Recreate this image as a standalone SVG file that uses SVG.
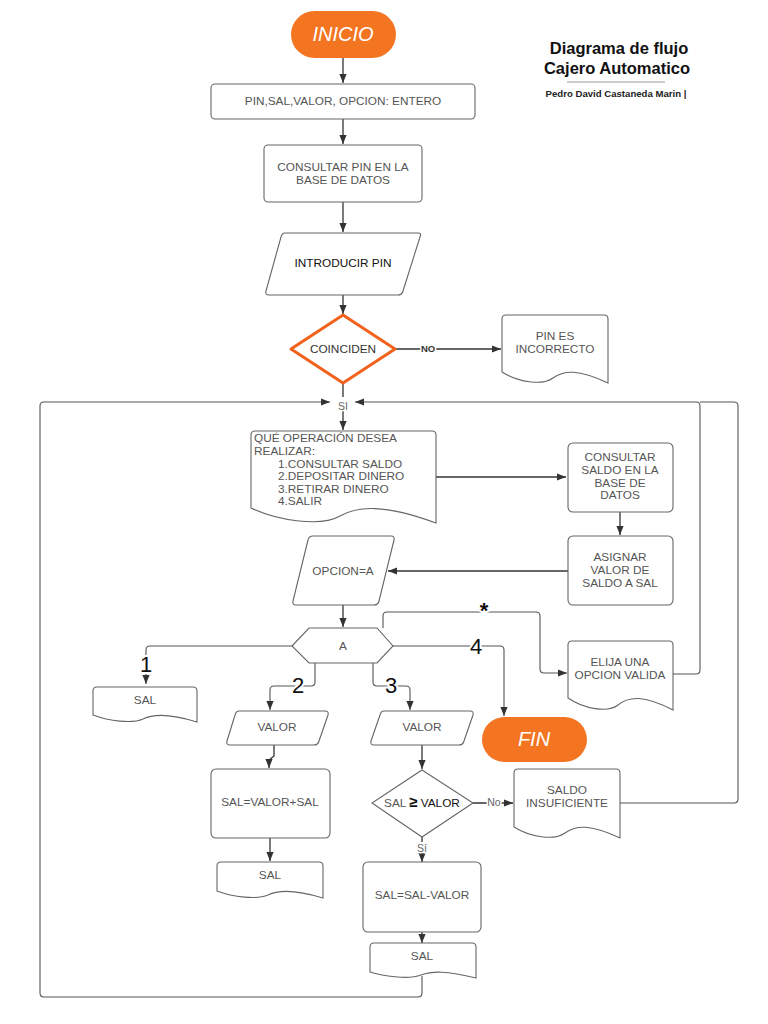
<svg xmlns="http://www.w3.org/2000/svg" width="768" height="1024" viewBox="0 0 768 1024">
<style>
.box{fill:#fff;stroke:#666;stroke-width:1.1}
.term{fill:#F47521;stroke:none}
.conn{fill:none;stroke:#333;stroke-width:1.3}
.loop{fill:none;stroke:#555;stroke-width:1.1}
.t{font-family:"Liberation Sans",Arial,sans-serif;font-size:11.8px;fill:#555;text-anchor:middle}
.tl{font-family:"Liberation Sans",Arial,sans-serif;font-size:11.8px;fill:#555}
.tw{font-family:"Liberation Sans",Arial,sans-serif;font-style:italic;fill:#fff;text-anchor:middle}
.num{font-family:"Liberation Sans",Arial,sans-serif;font-size:22px;fill:#111;text-anchor:middle;stroke:#fff;stroke-width:4;paint-order:stroke}
.lab{font-family:"Liberation Sans",Arial,sans-serif;font-size:10.5px;fill:#666;text-anchor:middle;stroke:#fff;stroke-width:3;paint-order:stroke}
</style>
<defs>
<marker id="arr" viewBox="0 0 10 8" refX="10" refY="4" markerWidth="9" markerHeight="8" markerUnits="userSpaceOnUse" orient="auto">
<path d="M0,0 L10,4 L0,8 z" fill="#333"/>
</marker>
</defs>

<g id="title">
<text x="619" y="54" font-family="Liberation Sans,Arial,sans-serif" font-size="16.5" font-weight="bold" fill="#111" text-anchor="middle">Diagrama de flujo</text>
<text x="617" y="74" font-family="Liberation Sans,Arial,sans-serif" font-size="16.5" font-weight="bold" fill="#111" text-anchor="middle">Cajero Automatico</text>
<line x1="567" y1="82" x2="665" y2="82" stroke="#999" stroke-width="1.2"/>
<text x="616" y="97" font-family="Liberation Sans,Arial,sans-serif" font-size="9.6" font-weight="bold" fill="#222" text-anchor="middle">Pedro David Castaneda Marin  |</text>
</g>

<g id="connectors">
<path class="conn" d="M343,58 V83" marker-end="url(#arr)"/>
<path class="conn" d="M343,119 V144" marker-end="url(#arr)"/>
<path class="conn" d="M343,202 V232" marker-end="url(#arr)"/>
<path class="conn" d="M343,295 V314" marker-end="url(#arr)"/>
<path class="conn" d="M395,349 H501" marker-end="url(#arr)"/>
<path class="conn" d="M343,383 V397"/>
<path class="conn" d="M343,411 V430" marker-end="url(#arr)"/>
<path class="loop" d="M422,976 V993 Q422,997 418,997 H44 Q40,997 40,993 V406 Q40,402 44,402 H330" marker-end="url(#arr)"/>
<path class="loop" d="M673,674 H696 Q700,674 700,670 V406 Q700,402 696,402 H355" marker-end="url(#arr)"/>
<path class="loop" d="M620,803 H734 Q738,803 738,799 V406 Q738,402 734,402 H700"/>
<path class="conn" d="M436,477 H566" marker-end="url(#arr)"/>
<path class="conn" d="M620,512 V535" marker-end="url(#arr)"/>
<path class="conn" d="M568,571 H388" marker-end="url(#arr)"/>
<path class="conn" d="M343,605 V627" marker-end="url(#arr)"/>
<path class="loop" d="M292,646 H150 Q146,646 146,650 V684" marker-end="url(#arr)"/>
<path class="loop" d="M315,663 V682 Q315,686 311,686 H274 Q270,686 270,690 V710" marker-end="url(#arr)"/>
<path class="loop" d="M373,663 V682 Q373,686 377,686 H406 Q410,686 410,690 V710" marker-end="url(#arr)"/>
<path class="loop" d="M393,646 H500 Q504,646 504,650 V716" marker-end="url(#arr)"/>
<path class="loop" d="M383,628 V616 Q383,612 387,612 H536 Q540,612 540,616 V669 Q540,673 544,673 H567" marker-end="url(#arr)"/>
<path class="conn" d="M274,745 V756 L269,760 V768" marker-end="url(#arr)"/>
<path class="conn" d="M270,838 V861" marker-end="url(#arr)"/>
<path class="conn" d="M422,745 V769" marker-end="url(#arr)"/>
<path class="conn" d="M473,803 H513" marker-end="url(#arr)"/>
<path class="conn" d="M422,837 V842"/>
<path class="conn" d="M422,855 V862" marker-end="url(#arr)"/>
<path class="conn" d="M422,932 V943" marker-end="url(#arr)"/>
<text x="428" y="352" font-family="Liberation Sans,Arial,sans-serif" font-size="9.5" font-weight="bold" fill="#333" text-anchor="middle" stroke="#fff" stroke-width="3" paint-order="stroke">NO</text>
<text x="343" y="410" class="lab" font-size="11">SI</text>
<text x="494" y="806" class="lab">No</text>
<text x="422" y="852" class="lab">Sí</text>
<text x="146" y="672" class="num">1</text>
<text x="298" y="693" class="num">2</text>
<text x="391" y="693" class="num">3</text>
<text x="476" y="654" class="num">4</text>
<text x="484" y="618" class="num" font-size="21" font-weight="bold">*</text>
</g>

<g id="inicio">
<rect class="term" x="291" y="11" width="105" height="47" rx="23.5"/>
<text class="tw" x="343" y="41" font-size="20">INICIO</text>
</g>
<g id="declarar">
<rect class="box" x="211" y="84" width="264" height="35" rx="4"/>
<text class="t" x="343" y="105">PIN,SAL,VALOR, OPCION: ENTERO</text>
</g>
<g id="consultar-pin">
<rect class="box" x="264" y="145" width="158" height="57" rx="4"/>
<text class="t" x="343" y="171">CONSULTAR PIN EN LA</text>
<text class="t" x="343" y="184">BASE DE DATOS</text>
</g>
<g id="introducir-pin">
<path class="box" d="M285,233 H418 Q422,233 420,237 L403,291 Q402,295 398,295 H269 Q265,295 266,291 L281,237 Q282,233 285,233 Z"/>
<text class="t" x="343" y="267" style="fill:#111">INTRODUCIR PIN</text>
</g>
<g id="coinciden">
<path d="M343,315 L395,349 L343,383 L291,349 Z" fill="#fff" stroke="#F2621C" stroke-width="3" stroke-linejoin="round"/>
<text class="t" x="343" y="353" style="fill:#333">COINCIDEN</text>
</g>
<g id="pin-incorrecto">
<path class="box" d="M502,319 Q502,315 506,315 H604 Q608,315 608,319 V383 C578,369 564,370 553,378 C542,386 518,382 502,372 Z"/>
<text class="t" x="555" y="340">PIN ES</text>
<text class="t" x="555" y="353">INCORRECTO</text>
</g>
<g id="menu">
<path class="box" d="M251,435 Q251,431 255,431 H432 Q436,431 436,435 V523 C384,504 358,506 340,516 C321,527 279,521 251,508 Z"/>
<text class="tl" x="254" y="442">QUÉ OPERACIÓN DESEA</text>
<text class="tl" x="254" y="455">REALIZAR:</text>
<text class="tl" x="278" y="468">1.CONSULTAR SALDO</text>
<text class="tl" x="278" y="480">2.DEPOSITAR DINERO</text>
<text class="tl" x="278" y="493">3.RETIRAR DINERO</text>
<text class="tl" x="278" y="505">4.SALIR</text>
</g>
<g id="consultar-saldo">
<rect class="box" x="568" y="443" width="105" height="69" rx="5"/>
<text class="t" x="620" y="461">CONSULTAR</text>
<text class="t" x="620" y="474">SALDO EN LA</text>
<text class="t" x="620" y="487">BASE DE</text>
<text class="t" x="620" y="499">DATOS</text>
</g>
<g id="asignar">
<rect class="box" x="568" y="536" width="105" height="69" rx="5"/>
<text class="t" x="620" y="561">ASIGNAR</text>
<text class="t" x="620" y="574">VALOR DE</text>
<text class="t" x="620" y="587">SALDO A SAL</text>
</g>
<g id="opcion">
<path class="box" d="M313,536 H391 Q395,536 394,540 L379,601 Q378,605 374,605 H296 Q292,605 293,601 L308,540 Q309,536 313,536 Z"/>
<text class="t" x="343" y="575">OPCION=A</text>
</g>
<g id="selector-a">
<path class="box" d="M292,646 L309,628 H377 L393,646 L377,663 H309 Z"/>
<text class="t" x="343" y="650">A</text>
</g>
<g id="sal-1">
<path class="box" d="M93,691 Q93,687 97,687 H193 Q197,687 197,691 V722 C168,713 153,714 143,719 C132,724 109,721 93,715 Z"/>
<text class="t" x="145" y="704">SAL</text>
</g>
<g id="valor-1">
<path class="box" d="M239,711 H325 Q329,711 328,715 L319,741 Q318,745 314,745 H230 Q226,745 227,741 L235,715 Q236,711 239,711 Z"/>
<text class="t" x="277" y="731">VALOR</text>
</g>
<g id="valor-2">
<path class="box" d="M384,711 H470 Q474,711 473,715 L464,741 Q463,745 459,745 H374 Q370,745 371,741 L380,715 Q381,711 384,711 Z"/>
<text class="t" x="422" y="731">VALOR</text>
</g>
<g id="fin">
<rect class="term" x="482" y="717" width="105" height="45" rx="22.5"/>
<text class="tw" x="534" y="746" font-size="20">FIN</text>
</g>
<g id="elija">
<path class="box" d="M568,645 Q568,641 572,641 H669 Q673,641 673,645 V710 C644,695 629,696 618,705 C608,713 584,709 568,698 Z"/>
<text class="t" x="620" y="666">ELIJA UNA</text>
<text class="t" x="620" y="679">OPCION VALIDA</text>
</g>
<g id="sumar">
<rect class="box" x="211" y="769" width="119" height="69" rx="5"/>
<text class="t" x="270" y="806">SAL=VALOR+SAL</text>
</g>
<g id="sal-2">
<path class="box" d="M217,866 Q217,862 221,862 H319 Q323,862 323,866 V898 C293,889 278,890 268,895 C257,900 233,897 217,891 Z"/>
<text class="t" x="270" y="879">SAL</text>
</g>
<g id="comparar">
<path class="box" d="M422,770 L473,803 L422,837 L372,803 Z"/>
<text x="422" y="807" font-family="Liberation Sans,Arial,sans-serif" font-size="11.8" text-anchor="middle"><tspan fill="#555">SAL </tspan><tspan fill="#111" font-size="15" font-weight="bold">≥</tspan><tspan fill="#111"> VALOR</tspan></text>
</g>
<g id="saldo-insuficiente">
<path class="box" d="M514,773 Q514,769 518,769 H616 Q620,769 620,773 V838 C590,824 576,825 565,833 C554,841 530,837 514,827 Z"/>
<text class="t" x="567" y="794">SALDO</text>
<text class="t" x="567" y="807">INSUFICIENTE</text>
</g>
<g id="restar">
<rect class="box" x="363" y="862" width="118" height="70" rx="5"/>
<text class="t" x="422" y="899">SAL=SAL-VALOR</text>
</g>
<g id="sal-3">
<path class="box" d="M370,947 Q370,943 374,943 H472 Q476,943 476,947 V978 C446,970.5 432,971 421,975 C410,979.5 386,977 370,972 Z"/>
<text class="t" x="422" y="960">SAL</text>
</g>
</svg>
